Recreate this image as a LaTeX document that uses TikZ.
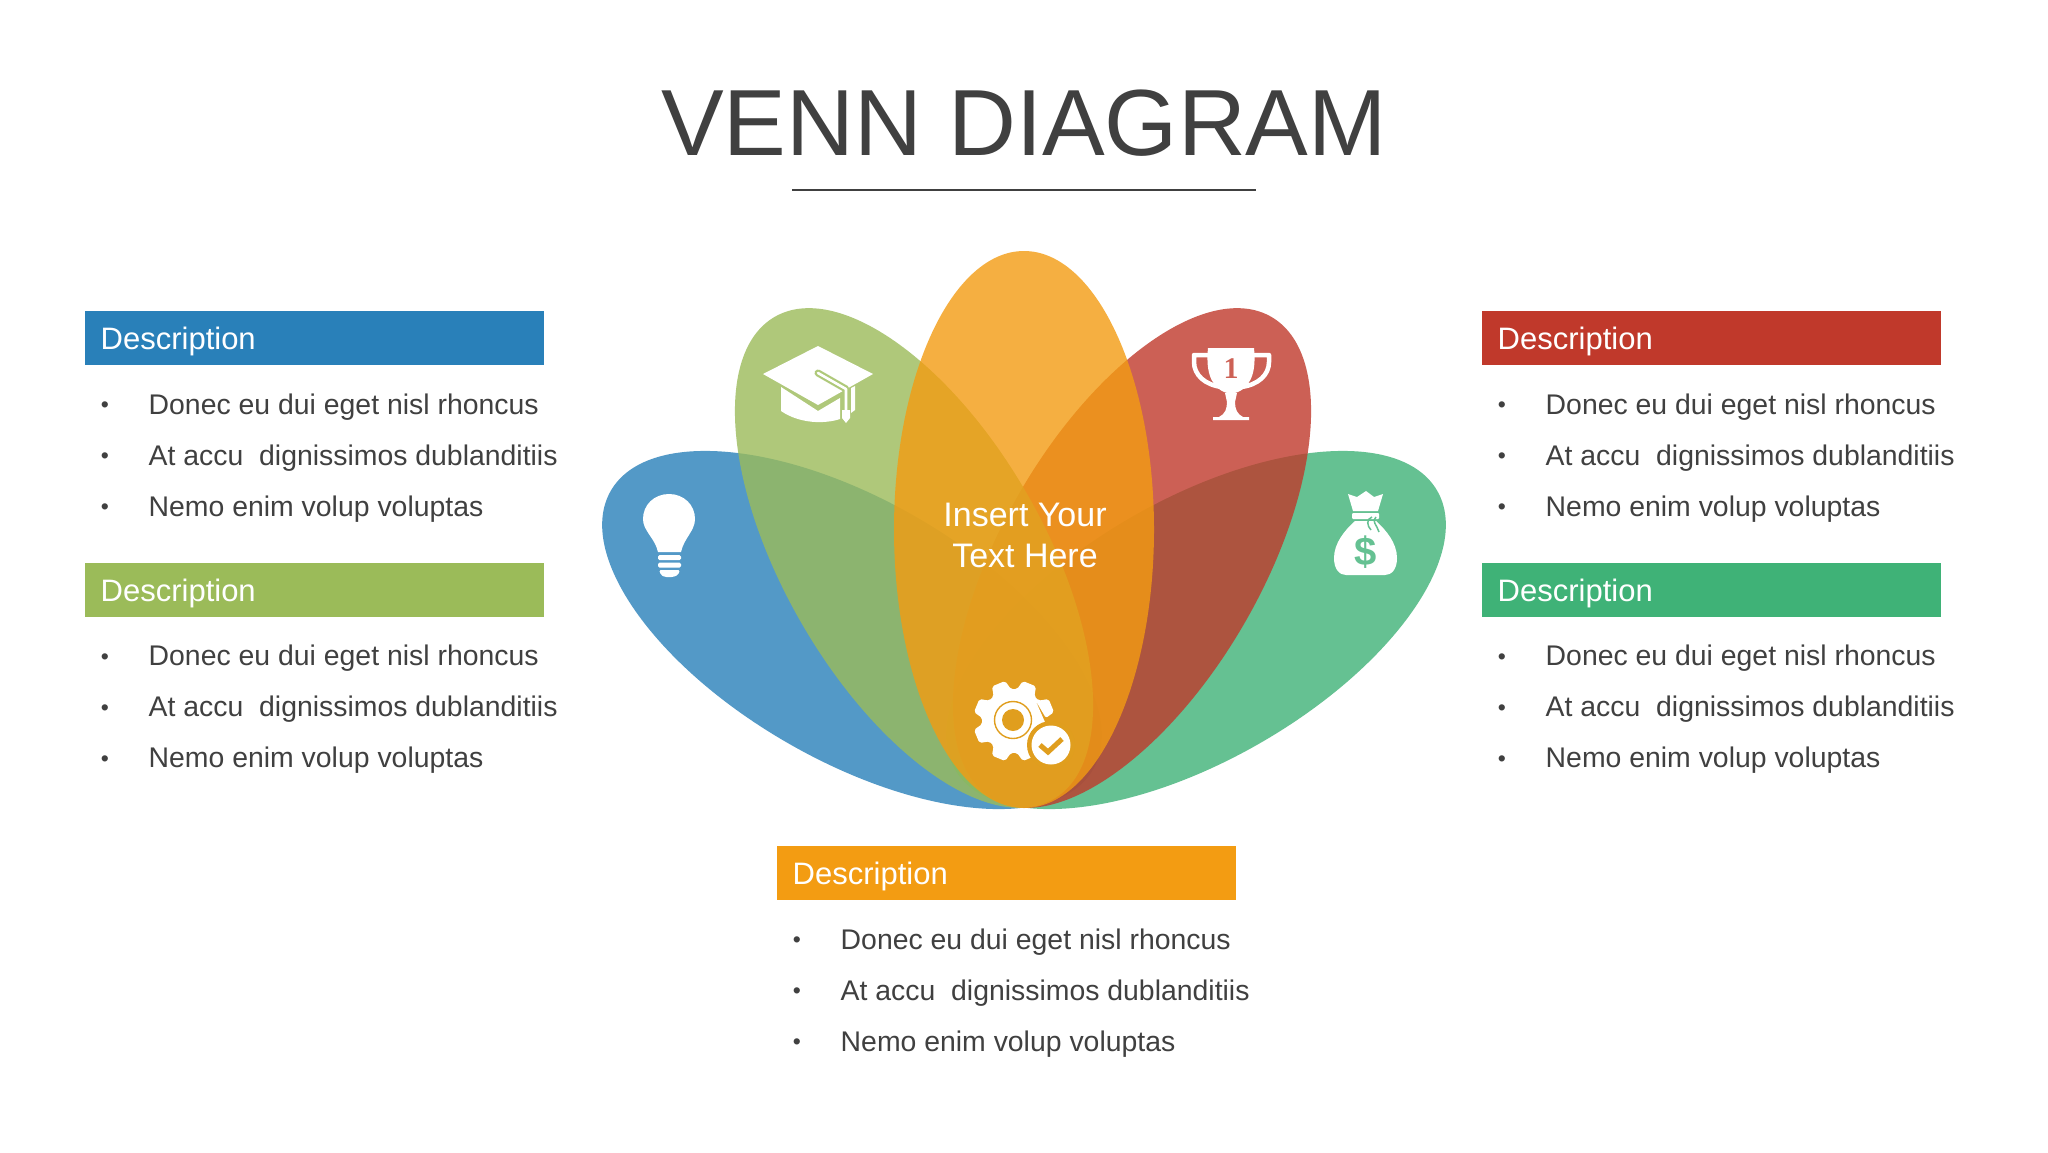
\documentclass[tikz,border=0pt]{standalone}
\usepackage{fontspec}
\setmainfont{Liberation Sans}
\newfontfamily\serifnum{Liberation Serif}
\definecolor{ink}{HTML}{404040}
\definecolor{cblue}{HTML}{2980B9}
\definecolor{cgreen}{HTML}{9BBB59}
\definecolor{corange}{HTML}{F39C12}
\definecolor{cred}{HTML}{C0392B}
\definecolor{cteal}{HTML}{3FB277}
\definecolor{capbg}{HTML}{AFC97A}
\definecolor{cupbg}{HTML}{CD6155}
\definecolor{bagbg}{HTML}{65C192}
\definecolor{gearbg}{HTML}{E09E1E}
\tikzset{
  petal/.style={opacity=.8,fill=#1},
  headbar/.style={fill=#1,draw=none,anchor=north west,minimum width=459pt,minimum height=54pt,inner sep=0pt},
  headtext/.style={anchor=base west,text=white,inner sep=0pt,font=\fontsize{31}{36}\selectfont},
  bodytext/.style={anchor=base west,text=ink,inner sep=0pt,font=\fontsize{28.4}{34}\selectfont},
  bulletmark/.style={anchor=base,text=ink,inner sep=0pt,font=\fontsize{23}{28}\selectfont},
  icon/.style={fill=white,draw=none}
}
\newcommand{\infoblock}[4]{% name, x, y, colour
  \node[headbar=#4] (#1bar) at (#2,#3) {};
  \node[headtext] (#1head) at (#2+15.5,#3+38.5) {Description};
  \node[bulletmark] (#1ba) at (#2+20,#3+101.5) {•};
  \node[bulletmark] (#1bb) at (#2+20,#3+152.5) {•};
  \node[bulletmark] (#1bc) at (#2+20,#3+203.5) {•};
  \node[bodytext] (#1a) at (#2+63.5,#3+103) {Donec eu dui eget nisl rhoncus};
  \node[bodytext] (#1b) at (#2+63.5,#3+154) {At accu\ \ dignissimos dublanditiis};
  \node[bodytext] (#1c) at (#2+63.5,#3+205) {Nemo enim volup voluptas};
}
\begin{document}
\begin{tikzpicture}[x=1pt,y=-1pt]
\useasboundingbox (0,0) rectangle (2048,1152);
\fill[white] (0,0) rectangle (2048,1152);

\node[anchor=base,text=ink,inner sep=0pt,font=\fontsize{94}{100}\selectfont] (title) at (1024,155.5) {VENN DIAGRAM};
\coordinate (ruleL) at (792,190);
\coordinate (ruleR) at (1256,190);
\draw[ink,line width=1.6pt] (ruleL) -- (ruleR);

% petals
\path[petal=cblue,shift={(852,630)},rotate=60] (0,0) ellipse [x radius=130pt,y radius=278.5pt];
\path[petal=cteal,shift={(1196,630)},rotate=-60] (0,0) ellipse [x radius=130pt,y radius=278.5pt];
\path[petal=cred,shift={(1132,558)},rotate=-30] (0,0) ellipse [x radius=130pt,y radius=278.5pt];
\path[petal=cgreen,shift={(914,558)},rotate=30] (0,0) ellipse [x radius=130pt,y radius=278.5pt];
\path[petal=corange] (1024,529.5) ellipse [x radius=130pt,y radius=278.5pt];

\node[anchor=base,text=white,inner sep=0pt,font=\fontsize{34}{38}\selectfont] (insA) at (1025,526) {Insert Your};
\node[anchor=base,text=white,inner sep=0pt,font=\fontsize{34}{38}\selectfont] (insB) at (1025,567) {Text Here};

% bulb
\fill[icon] (669,494) .. controls (654,494) and (643,505) .. (643,519)
  .. controls (643,531) and (655,538) .. (658,552) -- (681,552)
  .. controls (684,538) and (695,531) .. (695,519)
  .. controls (695,505) and (684,494) .. (669,494) -- cycle;
\fill[icon,rounded corners=1.5pt] (658,555) rectangle (681,560);
\fill[icon,rounded corners=1.5pt] (658,562.5) rectangle (681,567.5);
\fill[icon,rounded corners=1.5pt] (659,570) -- (680,570) -- (678,575) -- (673,577) -- (665,577) -- (661,575) -- cycle;

% graduation cap
\fill[icon] (818,346) -- (873,374) -- (818,405) -- (763,374) -- cycle;
\fill[icon] (781,387) -- (818,411) -- (840,398) -- (840,419) .. controls (825,424) and (800,424) .. (781,411) -- cycle;
\draw[capbg,line width=7pt,line cap=round,line join=round] (818,373) -- (846,389) -- (846,412);
\draw[white,line width=2.6pt,line cap=round,line join=round] (818,373) -- (846,389) -- (846,412);
\fill[icon] (851,388) -- (855,386) -- (855,410) -- (851,413) -- cycle;
\fill[icon] (842,410) -- (850,410) -- (850,418) -- (846,423) -- (842,418) -- cycle;

% trophy
\draw[white,line width=4.5pt,line join=round] (1210,355) -- (1194,355) -- (1194,362)
  .. controls (1194,375) and (1205,385) .. (1222,387);
\draw[white,line width=4.5pt,line join=round] (1252,355) -- (1269,355) -- (1269,362)
  .. controls (1269,375) and (1258,385) .. (1241,387);
\fill[icon] (1208,348) -- (1254,348) .. controls (1256,368) and (1253,385) .. (1238,392)
  .. controls (1233,394) and (1229,394) .. (1224,392)
  .. controls (1209,385) and (1206,368) .. (1208,348) -- cycle;
\fill[icon] (1225,393) -- (1237,393) -- (1235,402) .. controls (1235,409) and (1237,414) .. (1243,417)
  -- (1249,417) -- (1249,420) -- (1213,420) -- (1213,417) -- (1219,417)
  .. controls (1225,414) and (1227,409) .. (1227,402) -- cycle;
\node[anchor=center,text=cupbg,inner sep=0pt,font=\fontsize{30}{32}\selectfont\serifnum\bfseries] (cupone) at (1231,369) {1};

% money bag
\fill[icon] (1348,494) -- (1357,497) -- (1366,491) -- (1374,497) -- (1383,494) -- (1378,511) -- (1353,511) -- cycle;
\fill[icon,rounded corners=1pt] (1352,513) rectangle (1379,519);
\fill[icon] (1355,521) -- (1376,521) .. controls (1386,530) and (1397,543) .. (1397,558)
  .. controls (1397,570) and (1391,575) .. (1385,575) -- (1346,575)
  .. controls (1340,575) and (1334,570) .. (1334,558)
  .. controls (1334,543) and (1345,530) .. (1355,521) -- cycle;
\draw[bagbg,line width=1.5pt] (1372,517) .. controls (1366,519) and (1367,526) .. (1371,530);
\draw[bagbg,line width=1.5pt] (1376,517) .. controls (1371,521) and (1377,525) .. (1379,532);
\node[anchor=center,text=bagbg,inner sep=0pt,font=\fontsize{40}{42}\selectfont\bfseries] (bagsign) at (1366,552) {\$};

% gear with hub and check badge
\begin{scope}[shift={(1014,721)}]
\fill[icon,even odd rule,rounded corners=2pt] (-22.5-22.5:30)
  \foreach \a in {22.5,67.5,...,337.5} {
    -- (\a-17:32) -- (\a-10:41) -- (\a+10:41) -- (\a+17:32)
  } -- cycle;
\fill[gearbg] (-1,-1) circle [radius=11pt];
\draw[gearbg,line width=1.4pt] (-1,-1) circle [radius=18.5pt];
\end{scope}
\fill[gearbg] (1051,745) circle [radius=24pt];
\fill[icon] (1051,745) circle [radius=19.5pt];
\draw[gearbg,line width=5pt] (1040,745) -- (1048,752) -- (1062,739);

% text blocks
\infoblock{lt}{85}{311}{cblue}
\infoblock{lb}{85}{562.5}{cgreen}
\infoblock{rt}{1482}{311}{cred}
\infoblock{rb}{1482}{562.5}{cteal}
\infoblock{mid}{777}{846}{corange}
\end{tikzpicture}
\end{document}
